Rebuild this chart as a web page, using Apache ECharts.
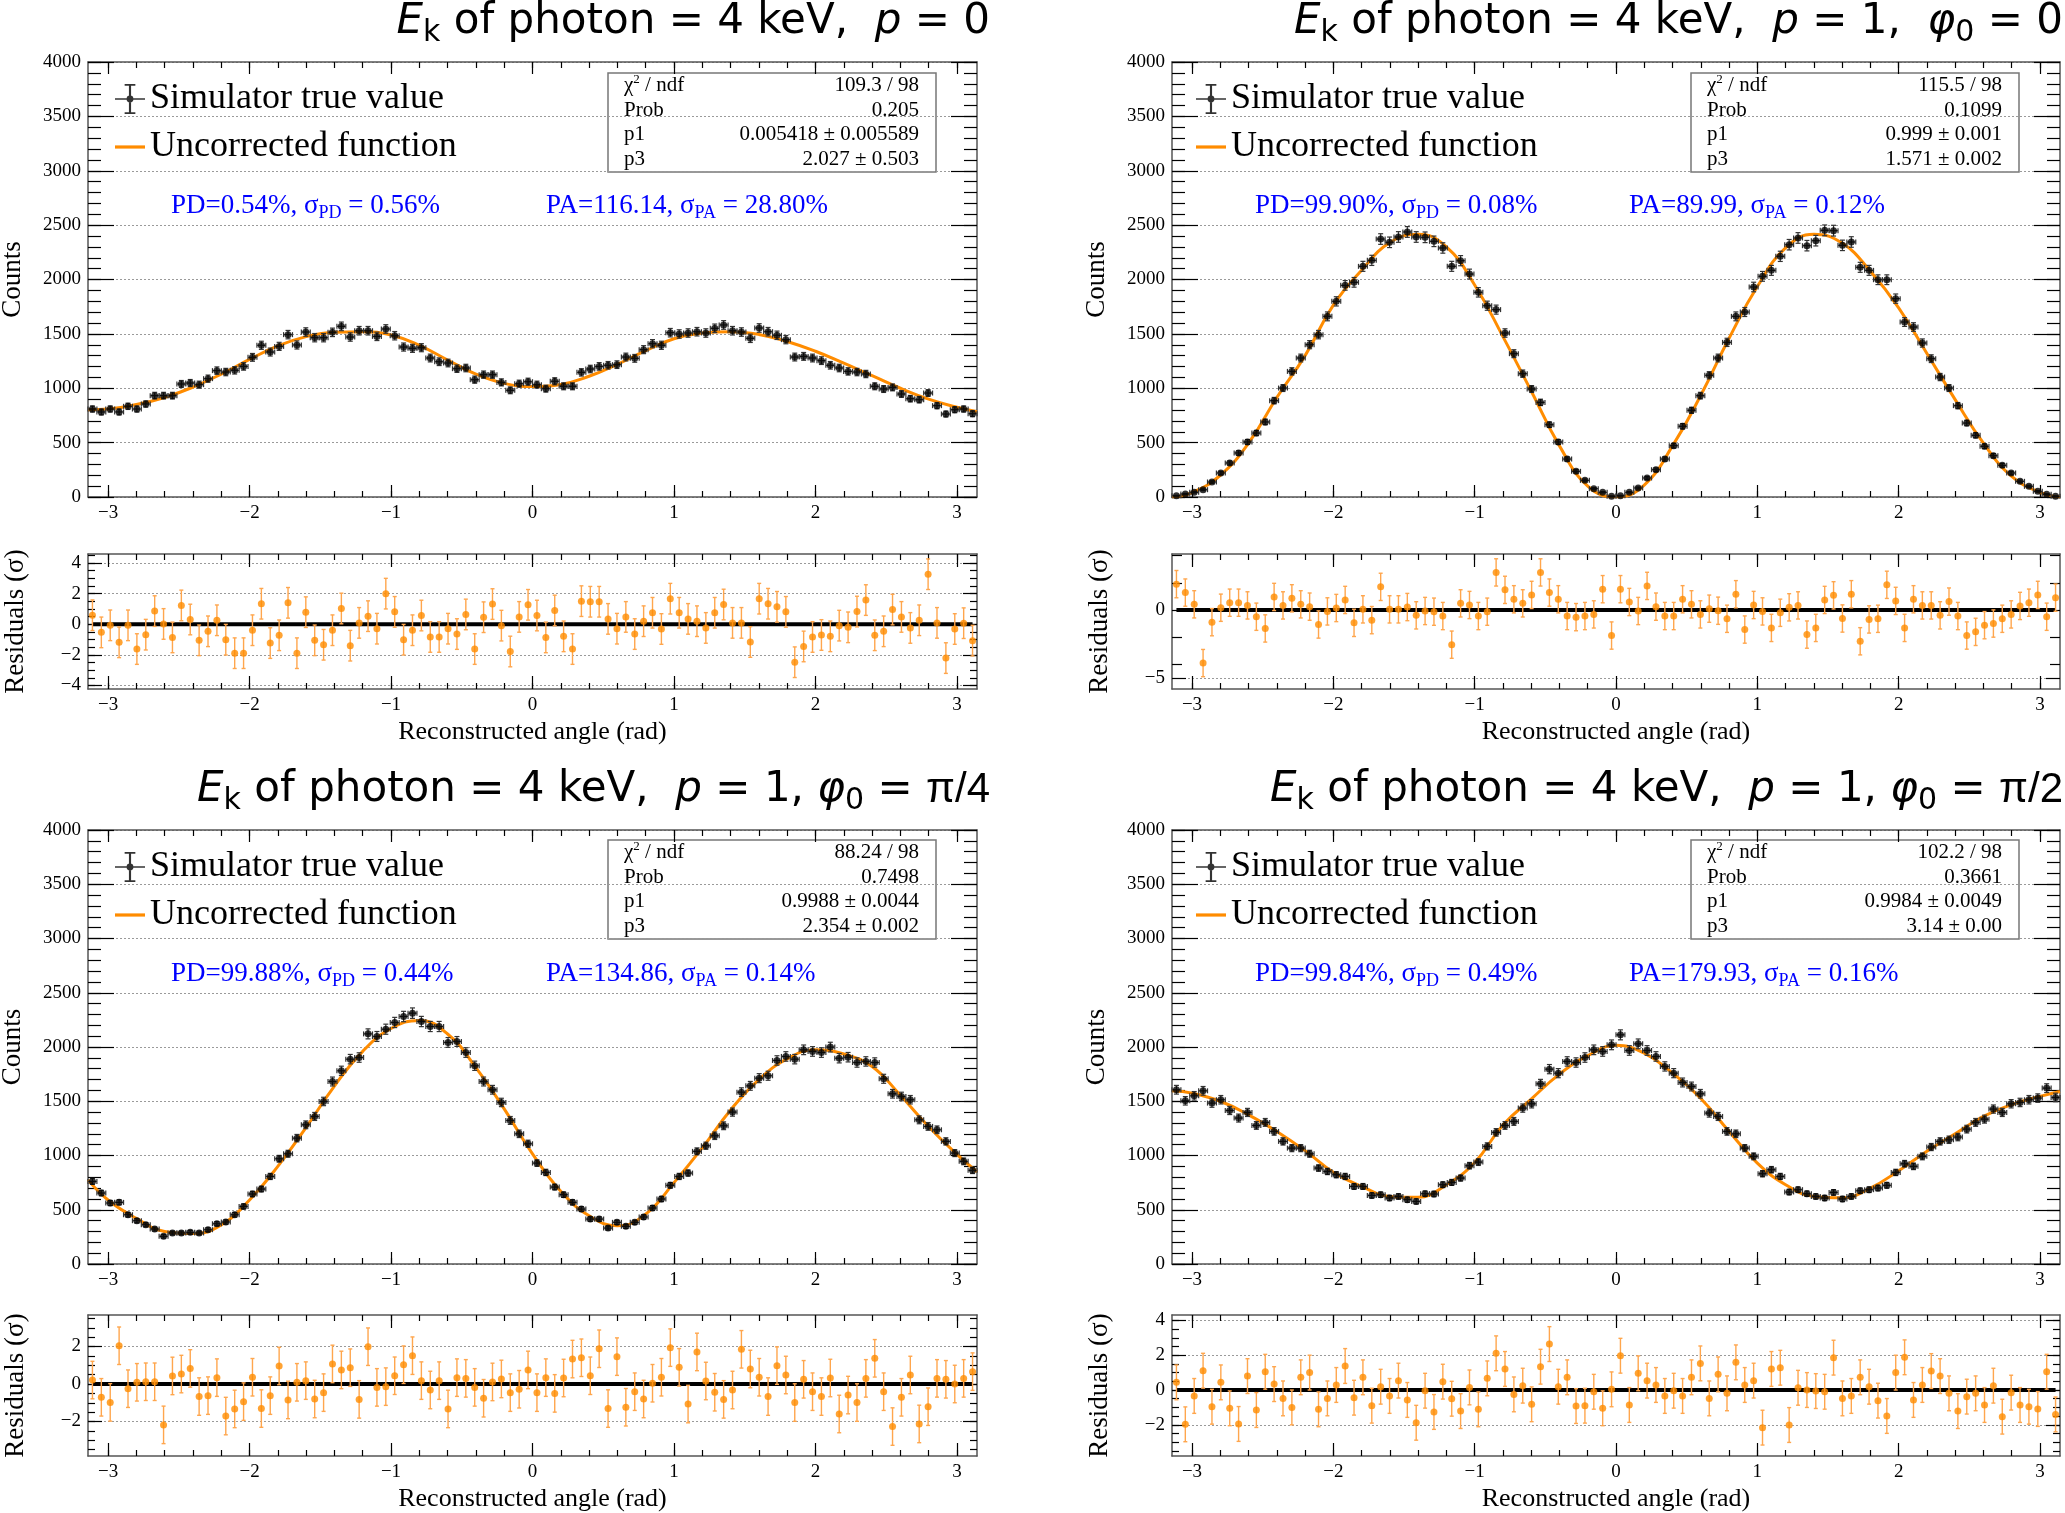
<!DOCTYPE html>
<html>
<head>
<meta charset="utf-8">
<script src="https://cdn.jsdelivr.net/npm/echarts@6.0.0/dist/echarts.min.js"></script>
<style>
html,body{margin:0;padding:0;background:#ffffff;}
#chart{width:2065px;height:1513px;}
</style>
</head>
<body>
<div id="chart"></div>
<script>
// ---------------- tick labels ----------------
const xTickLabels = [-3, -2, -1, 0, 1, 2, 3];
const countTickLabels = [0, 500, 1000, 1500, 2000, 2500, 3000, 3500, 4000];
const residTicksP0 = [-4, -2, 0, 2, 4];
const residTicksPhi0 = [-5, 0];
const residTicksPiQ = [-2, 0, 2];
const residTicksPiH = [-2, 0, 2, 4];
const residRangeP0 = [-4.23, 4.59];
const residRangePhi0 = [-5.79, 4.11];
const residRangePiQ = [-3.84, 3.68];
const residRangePiH = [-3.79, 4.31];

// ---------------- fit curves ----------------
const fitX = [-3.1416,-3.0,-2.8,-2.6,-2.4,-2.2,-2.0,-1.8,-1.6,-1.4,-1.2,-1.0,-0.8,-0.6,-0.4,-0.2,0,0.2,0.4,0.6,0.8,1.0,1.2,1.4,1.6,1.8,2.0,2.2,2.4,2.6,2.8,3.0,3.1416];
const fitP0 = [803,809,850,915,1010,1130,1265,1390,1475,1515,1520,1490,1395,1260,1130,1045,1015,1035,1110,1220,1345,1455,1508,1520,1495,1430,1340,1230,1115,1000,900,825,785];
const fitPhi0 = [0,40,200,495,915,1300,1765,2085,2340,2415,2300,1950,1475,975,470,100,0,110,470,935,1460,1935,2290,2415,2335,2075,1740,1320,895,495,190,43,0];
const fitPiQ = [775,590,420,300,280,360,590,900,1260,1640,1960,2170,2245,2120,1810,1430,1015,670,445,352,460,750,1070,1420,1700,1890,1975,1935,1820,1555,1265,1010,850];
const fitPiH = [1596,1575,1500,1375,1222,1045,845,715,623,615,731,935,1280,1520,1750,1920,2015,1943,1759,1525,1222,930,731,623,610,700,860,1040,1200,1360,1470,1545,1590];

// ---------------- histogram counts (100 bins) ----------------
const countsP0 = [809,782,809,782,834,809,855,932,932,932,1039,1048,1033,1088,1162,1149,1165,1201,1284,1395,1333,1385,1493,1398,1517,1465,1465,1514,1569,1471,1529,1529,1477,1545,1483,1379,1367,1373,1278,1244,1232,1180,1186,1079,1125,1125,1054,981,1042,1060,
  1033,996,1064,1018,1018,1146,1177,1201,1211,1217,1287,1275,1355,1410,1395,1511,1499,1508,1520,1508,1551,1582,1529,1517,1459,1554,1520,1487,1447,1287,1293,1278,1254,1211,1186,1155,1149,1131,1018,993,1008,947,904,895,956,840,763,803,809,766];
const countsPhi0 = [12,28,43,67,138,221,313,405,506,588,690,886,1002,1155,1278,1401,1493,1661,1799,1946,1974,2121,2176,2372,2342,2391,2437,2391,2388,2351,2290,2121,2173,2050,1882,1759,1723,1508,1318,1134,993,870,665,506,349,236,153,77,
  43,6,12,43,83,175,251,349,472,650,797,932,1119,1278,1422,1661,1701,1931,2029,2084,2213,2320,2382,2311,2357,2452,2449,2314,2345,2112,2084,1998,1998,1824,1609,1563,1416,1272,1103,1002,840,680,567,466,380,291,221,144,98,52,25,6];
const countsPiQ = [761,654,562,568,454,399,362,322,255,286,286,292,286,316,371,387,454,531,645,691,807,970,1016,1160,1283,1360,1498,1682,1781,1888,1903,2121,2097,2164,2226,2281,2312,2235,2189,2189,2042,2051,1949,1827,1682,1606,1489,1323,1200,1108,
  930,844,709,639,568,506,414,414,331,384,347,384,433,516,599,725,807,838,1038,1090,1182,1274,1400,1584,1642,1713,1735,1876,1913,1888,1974,1959,1949,1999,1897,1906,1857,1867,1857,1707,1569,1544,1514,1329,1268,1237,1130,1022,946,863];
const countsPiH = [1606,1504,1550,1596,1483,1514,1415,1345,1397,1277,1305,1222,1130,1068,1068,1016,884,853,823,807,715,715,632,639,608,623,593,577,648,645,731,752,792,906,939,1084,1213,1277,1314,1437,1477,1661,1796,1759,1867,1857,1903,1974,
  1959,2020,2112,1968,2029,1968,1913,1821,1759,1673,1636,1569,1391,1360,1222,1200,1068,992,832,869,807,663,685,648,623,608,660,599,623,675,685,700,725,844,924,900,992,1078,1130,1145,1170,1243,1305,1335,1428,1397,1477,1489,1514,1529,1621,1535];

// ---------------- residuals (sigma) ----------------
const residP0 = [0.59,-0.53,-0.07,-1.18,-0.07,-1.62,-0.68,0.86,0.02,-0.86,1.23,0.31,-1.05,-0.46,0.26,-1.01,-1.89,-1.89,-0.39,1.34,-1.23,-0.72,1.40,-1.89,0.79,-1.05,-1.34,-0.39,1.03,-1.40,0.09,0.53,-0.29,2.0,0.81,-1.01,-0.39,0.57,-0.83,-0.83,-0.29,-0.64,0.64,-1.62,0.46,1.32,-0.09,-1.78,0.48,1.27,
  0.57,-0.86,0.90,-0.79,-1.62,1.51,1.47,1.47,0.35,-0.29,0.48,-0.64,0.20,0.75,-0.31,1.67,0.75,0.35,0.20,-0.24,0.75,1.29,0.09,0.09,-1.16,1.67,1.34,1.14,0.81,-2.48,-1.45,-0.83,-0.70,-0.79,-0.09,-0.20,0.83,1.58,-0.72,-0.46,0.96,0.48,-0.24,0.26,3.27,0.09,-2.21,-0.31,0.07,-1.07];
const residPhi0 = [1.90,1.28,0.42,-3.89,-0.89,0.17,0.54,0.54,0.34,-0.49,-1.35,0.96,0.34,0.86,0.42,0.25,-1.06,-0.10,0.15,0.74,-0.94,0.05,-0.74,1.70,0.05,0.05,0.22,-0.39,-0.07,-0.12,-0.44,-2.54,0.49,0.37,-0.44,-0.12,2.76,1.48,0.79,0.49,1.11,2.76,1.28,0.79,-0.44,-0.52,-0.44,-0.32,1.53,-1.87,
  1.53,0.59,-0.07,1.77,0.25,-0.44,-0.44,0.79,0.42,-0.32,0.10,-0.05,-0.64,1.16,-1.43,0.37,-0.10,-1.31,-0.20,0.20,0.34,-1.80,-1.31,0.74,1.08,-0.62,1.16,-2.29,-0.69,-0.64,1.85,0.67,-1.31,0.79,0.34,0.34,-0.39,0.62,-0.44,-1.87,-1.60,-1.11,-0.99,-0.64,-0.32,0.30,0.54,1.11,-0.49,0.91];
const residPiQ = [0.21,-0.71,-0.98,2.04,-0.25,0.09,0.12,0.12,-2.18,0.43,0.53,0.83,-0.67,-0.62,0.34,-1.71,-1.33,-0.94,0.36,-1.31,-0.62,0.96,-0.85,0.09,0.18,-0.80,-0.46,1.07,0.75,0.87,-0.82,1.99,-0.18,-0.14,0.44,1.03,1.51,0.18,-0.32,0.18,-1.33,0.34,0.30,-0.18,-0.76,0.11,0.27,-0.46,-0.28,0.75,
  -0.46,0.34,-0.50,0.32,1.33,1.40,0.44,1.88,-1.31,1.46,-1.24,-0.41,-0.80,0.04,0.36,1.94,0.89,-1.07,1.71,0.16,-0.44,-0.82,-0.32,1.85,0.80,0.36,-0.67,0.98,0.48,-0.99,0.25,-0.41,-0.67,0.32,-1.60,-0.59,-0.99,0.30,1.37,-0.41,-2.27,-0.71,0.48,-2.13,-1.21,0.30,0.25,0,0.30,0.66];
const residPiH = [0.44,-1.97,-0.34,1.11,-0.96,0.44,-1.05,-1.95,0.80,-1.15,1.05,0.34,-0.48,-1.0,0.73,1.0,-1.11,-0.48,0.29,1.38,-0.44,0.73,-0.90,0.19,-0.34,0.54,-0.57,-1.88,-0.04,-1.26,0.48,-0.50,-1.21,0.15,-1.11,0.67,2.11,1.21,-0.25,0.25,-0.82,1.34,2.64,0.19,0.73,-0.92,-0.90,-0.10,-1.05,0.04,
  1.97,-0.86,0.96,0.54,0.29,-0.34,-0.04,-0.34,0.73,1.53,-0.48,0.90,-0.19,1.59,0.29,0.54,-2.16,1.21,1.28,-2.01,0.13,0,-0.06,-0.10,1.86,-0.48,-0.34,0.73,0.19,-0.61,-1.49,1.0,1.88,-0.57,0.29,1.09,0.80,-0.19,-1.21,-0.38,-0.19,-0.86,0.25,-1.53,-0.15,-0.86,-0.96,-1.09,1.05,-1.40];

// ---------------- texts ----------------
const titleP0 = '{i|E}{s|k}{n| of photon = 4 keV,  }{i|p}{n| = 0}';
const titlePhi0 = '{i|E}{s|k}{n| of photon = 4 keV,  }{i|p}{n| = 1,  }{i|φ}{s|0}{n| = 0}';
const titlePiQ = '{i|E}{s|k}{n| of photon = 4 keV,  }{i|p}{n| = 1, }{i|φ}{s|0}{n| = }{q|π/4}';
const titlePiH = '{i|E}{s|k}{n| of photon = 4 keV,  }{i|p}{n| = 1, }{i|φ}{s|0}{n| = }{q|π/2}';
const statsP0 = ['109.3 / 98', '0.205', '0.005418 ± 0.005589', '2.027 ± 0.503'];
const statsPhi0 = ['115.5 / 98', '0.1099', '0.999 ± 0.001', '1.571 ± 0.002'];
const statsPiQ = ['88.24 / 98', '0.7498', '0.9988 ± 0.0044', '2.354 ± 0.002'];
const statsPiH = ['102.2 / 98', '0.3661', '0.9984 ± 0.0049', '3.14 ± 0.00'];
const pdP0 = ['PD=0.54%', '0.56%'], paP0 = ['PA=116.14', '28.80%'];
const pdPhi0 = ['PD=99.90%', '0.08%'], paPhi0 = ['PA=89.99', '0.12%'];
const pdPiQ = ['PD=99.88%', '0.44%'], paPiQ = ['PA=134.86', '0.14%'];
const pdPiH = ['PD=99.84%', '0.49%'], paPiH = ['PA=179.93', '0.16%'];

// ---------------- helpers ----------------
const SERIF = "'Liberation Serif','Times New Roman',serif";
const SANS = "'DejaVu Sans',sans-serif";
const ORANGE = '#ff8c00';
const FRAME = '#555555';
const NBINS = 100;
const binCenters = Array.from({length: NBINS}, (_, i) => -Math.PI + (i + 0.5) * 2 * Math.PI / NBINS);
const halfBin = Math.PI / NBINS;
function steps(a, b, s) { const out = []; for (let v = a; v <= b + 1e-9; v += s) out.push(Math.round(v * 1000) / 1000); return out; }
const xMinorTicks = steps(-3.0, 3.0, 0.2);
const countMinorTicks = steps(0, 4000, 100);
const residMinorP0 = steps(-4, 4.5, 0.5);
const residMinorPhi0 = [-4, -2, 2, 4];
const residMinorPiQ = steps(-3.5, 3.5, 0.5);
const residMinorPiH = steps(-3.5, 4.0, 0.5);
const fmtTick = v => { const r = Math.round(v * 1000) / 1000; return r < 0 ? '\u2212' + Math.abs(r) : String(r); };

const panels = [
  {counts: countsP0, fit: fitP0, resid: residP0, rRange: residRangeP0, rMaj: residTicksP0, rMin: residMinorP0, rMinLen: 7, col: 0, row: 0, title: titleP0, stats: statsP0, pd: pdP0, pa: paP0},
  {counts: countsPhi0, fit: fitPhi0, resid: residPhi0, rRange: residRangePhi0, rMaj: residTicksPhi0, rMin: residMinorPhi0, rMinLen: 10, col: 1, row: 0, title: titlePhi0, stats: statsPhi0, pd: pdPhi0, pa: paPhi0},
  {counts: countsPiQ, fit: fitPiQ, resid: residPiQ, rRange: residRangePiQ, rMaj: residTicksPiQ, rMin: residMinorPiQ, rMinLen: 7, col: 0, row: 1, title: titlePiQ, stats: statsPiQ, pd: pdPiQ, pa: paPiQ},
  {counts: countsPiH, fit: fitPiH, resid: residPiH, rRange: residRangePiH, rMaj: residTicksPiH, rMin: residMinorPiH, rMinLen: 7, col: 1, row: 1, title: titlePiH, stats: statsPiH, pd: pdPiH, pa: paPiH}
];
const COLS = [
  {left: 88, width: 889, right: 990, pdX: 171, paX: 546, boxX: 608, legX: 115},
  {left: 1172, width: 888, right: 2063, pdX: 1255, paX: 1629, boxX: 1691, legX: 1196}
];
const ROWS = [
  {mainTop: 62, mainH: 435, resTop: 554, resH: 135, titleTop: -4, boxY: 73, legY: 81, textY: 206},
  {mainTop: 830, mainH: 434, resTop: 1315, resH: 141, titleTop: 764, boxY: 840, legY: 849, textY: 974}
];

const grids = [], xAxes = [], yAxes = [], series = [], titles = [], legends = [], graphics = [];
const tickStyle = {color: '#000', width: 1.2};

function addAxes(g, xr, yr, xMaj, xMin, yMaj, yMin, len, names) {
  const base = r => ({type: 'value', gridIndex: g, min: r[0], max: r[1]});
  const hiddenLine = {show: false, onZero: false};
  const frameLine = {show: true, onZero: false, lineStyle: {color: FRAME, width: 1.5}};
  const xb = Object.assign(base(xr), {
    position: 'bottom', axisLine: frameLine,
    axisTick: {show: true, inside: true, length: len.xMaj, customValues: xMaj, lineStyle: tickStyle},
    axisLabel: {show: true, customValues: xMaj, formatter: fmtTick, fontFamily: SERIF, fontSize: 19, color: '#000', margin: 7},
    splitLine: {show: false}
  });
  if (names.x) Object.assign(xb, {name: names.x, nameLocation: 'middle', nameGap: 30,
    nameTextStyle: {fontFamily: SERIF, fontSize: 26, color: '#000'}});
  xAxes.push(xb);
  xAxes.push(Object.assign(base(xr), {position: 'bottom', axisLine: hiddenLine,
    axisTick: {show: true, inside: true, length: len.xMin, customValues: xMin, lineStyle: tickStyle},
    axisLabel: {show: false}, splitLine: {show: false}}));
  xAxes.push(Object.assign(base(xr), {position: 'top', axisLine: frameLine,
    axisTick: {show: true, inside: true, length: len.xMaj, customValues: xMaj, lineStyle: tickStyle},
    axisLabel: {show: false}, splitLine: {show: false}}));
  xAxes.push(Object.assign(base(xr), {position: 'top', axisLine: hiddenLine,
    axisTick: {show: true, inside: true, length: len.xMin, customValues: xMin, lineStyle: tickStyle},
    axisLabel: {show: false}, splitLine: {show: false}}));

  yAxes.push(Object.assign(base(yr), {position: 'left', axisLine: frameLine,
    axisTick: {show: true, inside: true, length: len.yMaj, customValues: yMaj, lineStyle: tickStyle},
    axisLabel: {show: true, customValues: yMaj, formatter: fmtTick, fontFamily: SERIF, fontSize: 19, color: '#000', margin: 7},
    splitLine: {show: true, lineStyle: {color: '#9a9a9a', type: [2, 2], width: 1}},
    name: names.y, nameLocation: 'middle', nameRotate: 90, nameGap: names.yGap,
    nameTextStyle: {fontFamily: SERIF, fontSize: 27, color: '#000'}}));
  yAxes.push(Object.assign(base(yr), {position: 'left', axisLine: hiddenLine,
    axisTick: {show: true, inside: true, length: len.yMin, customValues: yMin, lineStyle: tickStyle},
    axisLabel: {show: false}, splitLine: {show: false}}));
  yAxes.push(Object.assign(base(yr), {position: 'right', axisLine: frameLine,
    axisTick: {show: true, inside: true, length: len.yMaj, customValues: yMaj, lineStyle: tickStyle},
    axisLabel: {show: false}, splitLine: {show: false}}));
  yAxes.push(Object.assign(base(yr), {position: 'right', axisLine: hiddenLine,
    axisTick: {show: true, inside: true, length: len.yMin, customValues: yMin, lineStyle: tickStyle},
    axisLabel: {show: false}, splitLine: {show: false}}));
}

function mainErr(params, api) {
  const x = api.value(0), y = api.value(1), e = api.value(2);
  const c = api.coord([x, y]), t = api.coord([x, y + e]), b = api.coord([x, y - e]);
  const l = api.coord([x - halfBin, y]), r = api.coord([x + halfBin, y]);
  const st = {stroke: '#333', lineWidth: 1.2};
  const cap = 2.5;
  return {type: 'group', children: [
    {type: 'line', shape: {x1: c[0], y1: t[1], x2: c[0], y2: b[1]}, style: st},
    {type: 'line', shape: {x1: c[0] - cap, y1: t[1], x2: c[0] + cap, y2: t[1]}, style: st},
    {type: 'line', shape: {x1: c[0] - cap, y1: b[1], x2: c[0] + cap, y2: b[1]}, style: st},
    {type: 'line', shape: {x1: l[0], y1: c[1], x2: r[0], y2: c[1]}, style: st},
    {type: 'line', shape: {x1: l[0], y1: c[1] - cap, x2: l[0], y2: c[1] + cap}, style: st},
    {type: 'line', shape: {x1: r[0], y1: c[1] - cap, x2: r[0], y2: c[1] + cap}, style: st}
  ]};
}
function resErr(params, api) {
  const x = api.value(0), y = api.value(1);
  const t = api.coord([x, y + 1]), b = api.coord([x, y - 1]);
  const st = {stroke: '#ffa64d', lineWidth: 1.4};
  const cap = 2;
  return {type: 'group', children: [
    {type: 'line', shape: {x1: t[0], y1: t[1], x2: b[0], y2: b[1]}, style: st},
    {type: 'line', shape: {x1: t[0] - cap, y1: t[1], x2: t[0] + cap, y2: t[1]}, style: st},
    {type: 'line', shape: {x1: b[0] - cap, y1: b[1], x2: b[0] + cap, y2: b[1]}, style: st}
  ]};
}

const ERR_ICON = 'path://M15,2L17,2L17,30L15,30Z M11,2L21,2L21,3.6L11,3.6Z M11,28.4L21,28.4L21,30L11,30Z M2,15.3L30,15.3L30,16.7L2,16.7Z M19.2,16A3.2,3.2 0 1 1 12.8,16A3.2,3.2 0 1 1 19.2,16Z';
const LINE_ICON = 'path://M0,0L28,0L28,3L0,3Z';

panels.forEach((p, k) => {
  const c = COLS[p.col], r = ROWS[p.row];
  const gMain = grids.length;
  grids.push({left: c.left, top: r.mainTop, width: c.width, height: r.mainH, containLabel: false, outerBoundsMode: 'none'});
  const gRes = grids.length;
  grids.push({left: c.left, top: r.resTop, width: c.width, height: r.resH, containLabel: false, outerBoundsMode: 'none'});
  addAxes(gMain, [-Math.PI, Math.PI], [0, 4000], xTickLabels, xMinorTicks, countTickLabels, countMinorTicks,
    {xMaj: 12, xMin: 6, yMaj: 26, yMin: 13}, {y: 'Counts', yGap: 62});
  addAxes(gRes, [-Math.PI, Math.PI], p.rRange, xTickLabels, xMinorTicks, p.rMaj, p.rMin,
    {xMaj: 13, xMin: 6, yMaj: 14, yMin: p.rMinLen}, {y: 'Residuals (σ)', yGap: 59, x: 'Reconstructed angle (rad)'});
  const ax = 4 * gMain, rax = 4 * gRes;

  series.push({
    name: 'Uncorrected function', type: 'line', xAxisIndex: ax, yAxisIndex: ax,
    data: fitX.map((x, i) => [x, p.fit[i]]), smooth: 0.45, symbol: 'none', showSymbol: false,
    lineStyle: {color: ORANGE, width: 3}, itemStyle: {color: ORANGE}, z: 3, silent: true
  });
  series.push({
    name: 'err' + k, type: 'custom', xAxisIndex: ax, yAxisIndex: ax,
    data: binCenters.map((x, i) => [x, p.counts[i], Math.sqrt(p.counts[i])]),
    renderItem: mainErr, z: 4, silent: true
  });
  series.push({
    name: 'Simulator true value', type: 'scatter', xAxisIndex: ax, yAxisIndex: ax,
    data: binCenters.map((x, i) => [x, p.counts[i]]), symbol: 'circle', symbolSize: 7,
    itemStyle: {color: '#000'}, z: 5, silent: true
  });
  series.push({
    name: 'zero' + k, type: 'line', xAxisIndex: rax, yAxisIndex: rax,
    data: [[binCenters[0], 0], [binCenters[NBINS - 1], 0]], symbol: 'none',
    lineStyle: {color: '#000', width: 4}, z: 2, silent: true
  });
  series.push({
    name: 'rerr' + k, type: 'custom', xAxisIndex: rax, yAxisIndex: rax,
    data: binCenters.map((x, i) => [x, p.resid[i]]), renderItem: resErr, z: 3, silent: true
  });
  series.push({
    name: 'resid' + k, type: 'scatter', xAxisIndex: rax, yAxisIndex: rax,
    data: binCenters.map((x, i) => [x, p.resid[i]]), symbol: 'circle', symbolSize: 7,
    itemStyle: {color: ORANGE}, z: 4, silent: true
  });

  titles.push({
    text: p.title, right: 2065 - c.right, top: r.titleTop, padding: 0,
    textStyle: {
      fontFamily: SANS, fontSize: 42, fontWeight: 'normal', color: '#000',
      rich: {
        n: {fontFamily: SANS, fontSize: 42, fontWeight: 'normal', lineHeight: 52, color: '#000'},
        q: {fontFamily: "'Liberation Sans',sans-serif", fontSize: 42, fontWeight: 'normal', lineHeight: 52, color: '#000'},
        i: {fontFamily: SANS, fontSize: 42, fontWeight: 'normal', lineHeight: 52, fontStyle: 'italic', color: '#000'},
        s: {fontFamily: SANS, fontSize: 30, fontWeight: 'normal', lineHeight: 32, verticalAlign: 'bottom', color: '#000'}
      }
    }
  });

  legends.push({
    left: c.legX, top: r.legY, orient: 'vertical', itemGap: 12, itemWidth: 30, itemHeight: 32,
    padding: 0, selectedMode: false,
    textStyle: {fontFamily: SERIF, fontSize: 36, color: '#000'},
    data: [{name: 'Simulator true value', icon: ERR_ICON}, {name: 'Uncorrected function', icon: LINE_ICON}]
  });

  const labels = ['{t|χ}{u|2}{t| / ndf}', 'Prob', 'p1', 'p3'];
  const rowOff = [12, 37, 61, 86];
  const children = [{type: 'rect', shape: {x: 0, y: 0, width: 328, height: 99},
    style: {fill: '#fff', stroke: '#777', lineWidth: 1.5}}];
  labels.forEach((lab, j) => {
    children.push({type: 'text', x: 16, y: rowOff[j], style: {
      text: lab, fill: '#000', fontFamily: SERIF, fontSize: 21, align: 'left', verticalAlign: 'middle',
      rich: {t: {fontFamily: SERIF, fontSize: 21, fill: '#000', lineHeight: 24},
             u: {fontFamily: SERIF, fontSize: 13, fill: '#000', lineHeight: 13, verticalAlign: 'top'}}}});
    children.push({type: 'text', x: 311, y: rowOff[j], style: {
      text: p.stats[j], fill: '#000', fontFamily: SERIF, fontSize: 21, align: 'right', verticalAlign: 'middle'}});
  });
  graphics.push({type: 'group', x: c.boxX, y: r.boxY, z: 100, children: children});

  const blueRich = {
    a: {fontFamily: SERIF, fontSize: 27, fill: '#0000ff', lineHeight: 32},
    s: {fontFamily: SERIF, fontSize: 18, fill: '#0000ff', lineHeight: 18, verticalAlign: 'bottom'}
  };
  graphics.push({type: 'text', x: c.pdX, y: r.textY - 16, z: 100, style: {
    text: '{a|' + p.pd[0] + ', σ}{s|PD}{a| = ' + p.pd[1] + '}', rich: blueRich, align: 'left', verticalAlign: 'top'}});
  graphics.push({type: 'text', x: c.paX, y: r.textY - 16, z: 100, style: {
    text: '{a|' + p.pa[0] + ', σ}{s|PA}{a| = ' + p.pa[1] + '}', rich: blueRich, align: 'left', verticalAlign: 'top'}});
});

const chart = echarts.init(document.getElementById('chart'), null, {renderer: 'canvas', width: 2065, height: 1513});
chart.setOption({
  animation: false,
  backgroundColor: '#ffffff',
  title: titles,
  legend: legends,
  grid: grids,
  xAxis: xAxes,
  yAxis: yAxes,
  series: series,
  graphic: graphics
});
</script>
</body>
</html>
